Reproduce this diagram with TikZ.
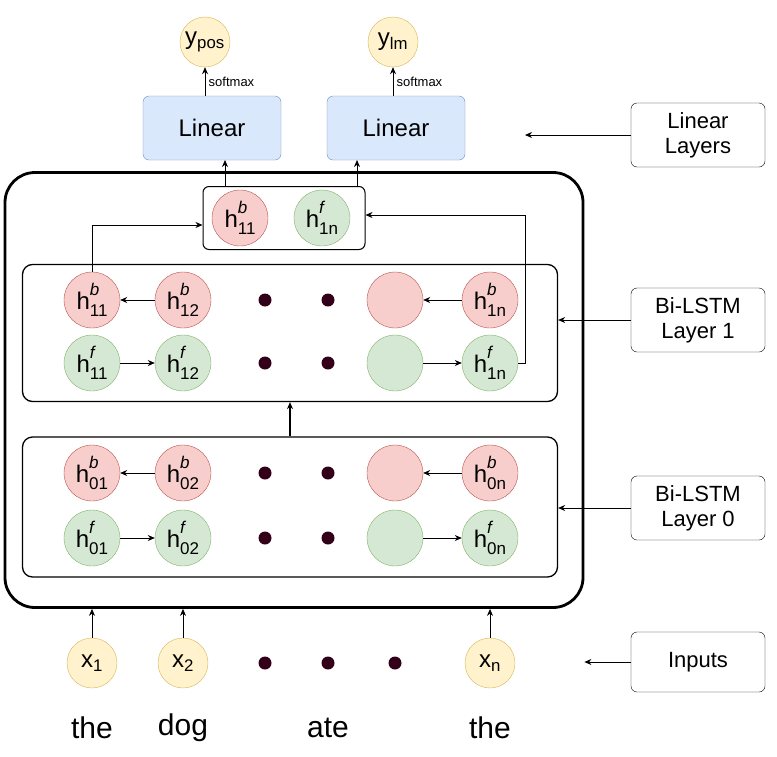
\documentclass[tikz,border=0pt]{standalone}
\usepackage{fontspec}
\setmainfont{Liberation Sans}
\usetikzlibrary{arrows.meta}
\definecolor{rf}{HTML}{F8CECC}\definecolor{rs}{HTML}{B85450}
\definecolor{gf}{HTML}{D5E8D4}\definecolor{gs}{HTML}{82B366}
\definecolor{yf}{HTML}{FFF2CC}\definecolor{ys}{HTML}{D6B656}
\definecolor{bf}{HTML}{DAE8FC}\definecolor{bs}{HTML}{6C8EBF}
\definecolor{dotc}{HTML}{33001A}
\newcommand{\hlab}[2]{h\rlap{\raisebox{0.55em}{\fontsize{17}{18}\selectfont\itshape #1}}{\raisebox{-0.3em}{\fontsize{17}{18}\selectfont #2}}}
\begin{document}
\begin{tikzpicture}[x=1pt,y=-1pt,
 every node/.style={font=\fontsize{24}{27}\selectfont},
 circ/.style={circle,draw,minimum size=56pt,inner sep=0pt},
 red/.style={circ,fill=rf,draw=rs},
 grn/.style={circ,fill=gf,draw=gs},
 yel/.style={circle,draw=ys,fill=yf,minimum size=50pt,inner sep=0pt},
 lin/.style={draw=bs,fill=bf,rounded corners=6pt,minimum width=138pt,minimum height=64pt},
 side/.style={draw,rounded corners=6pt,minimum width=134pt,minimum height=64pt,align=center,font=\fontsize{22}{25}\selectfont},
 dot/.style={circle,fill=dotc,minimum size=13pt,inner sep=0pt},
 arr/.style={-{Stealth[length=7pt,width=6pt]},line width=0.8pt},
 box/.style={draw,line width=1.3pt,rounded corners=10pt},
 word/.style={font=\fontsize{30}{34}\selectfont}]
\useasboundingbox (0,0) rectangle (777,756);
% outputs
\node[yel] (ypos) at (205,42) {y\textsubscript{pos}};
\node[yel] (ylm) at (393,42) {y\textsubscript{lm}};
\node[lin] (lin1) at (212,128) {Linear};
\node[lin] (lin2) at (396,128) {Linear};
\draw[arr] (lin1.north -| ypos) -- (ypos.south) node[midway,right,font=\fontsize{13}{14}\selectfont]{softmax};
\draw[arr] (lin2.north -| ylm) -- (ylm.south) node[midway,right,font=\fontsize{13}{14}\selectfont]{softmax};
% outer
\node[draw,line width=2.8pt,rounded corners=30pt,minimum width=578pt,minimum height=435pt] (outer) at (294,390) {};
% top box
\node[box,line width=1pt,rounded corners=6pt,minimum width=162pt,minimum height=63pt] (top) at (284,218) {};
\node[red] (tb) at (240,218) {\hlab{b}{11}};
\node[grn] (tf) at (322,218) {\hlab{f}{1n}};
\draw[arr] (225,187) -- (225,160);
\draw[arr] (357,187) -- (357,160);
% layer boxes
\node[box,minimum width=535pt,minimum height=137pt] (L1) at (290,333) {};
\node[box,minimum width=535pt,minimum height=140pt] (L0) at (290,507) {};
\draw[arr,line width=1.3pt] (L0.north) -- (L1.south);
% layer 1
\node[red] (a1) at (92,300) {\hlab{b}{11}};
\node[red] (a2) at (183,300) {\hlab{b}{12}};
\node[red] (a3) at (395,300) {};
\node[red] (a4) at (490,300) {\hlab{b}{1n}};
\node[grn] (b1) at (92,363) {\hlab{f}{11}};
\node[grn] (b2) at (183,363) {\hlab{f}{12}};
\node[grn] (b3) at (395,363) {};
\node[grn] (b4) at (490,363) {\hlab{f}{1n}};
\draw[arr] (a2) -- (a1); \draw[arr] (a4) -- (a3);
\draw[arr] (b1) -- (b2); \draw[arr] (b3) -- (b4);
\foreach \x/\n in {265/p,328/q}{\node[dot] (d1\n) at (\x,300){};\node[dot] (e1\n) at (\x,363){};}
% layer 0
\node[red] (c1) at (92,473) {\hlab{b}{01}};
\node[red] (c2) at (183,473) {\hlab{b}{02}};
\node[red] (c3) at (395,473) {};
\node[red] (c4) at (490,473) {\hlab{b}{0n}};
\node[grn] (f1) at (92,538) {\hlab{f}{01}};
\node[grn] (f2) at (183,538) {\hlab{f}{02}};
\node[grn] (f3) at (395,538) {};
\node[grn] (f4) at (490,538) {\hlab{f}{0n}};
\draw[arr] (c2) -- (c1); \draw[arr] (c4) -- (c3);
\draw[arr] (f1) -- (f2); \draw[arr] (f3) -- (f4);
\foreach \x/\n in {265/p,328/q}{\node[dot] (d0\n) at (\x,473){};\node[dot] (e0\n) at (\x,538){};}
% skip connections
\draw[arr] (a1.north) |- (top.west |- 0,225);
\draw[arr] (b4.east) -- (525,363) |- (top.east |- 0,215);
% inputs
\node[yel] (x1) at (92,663) {x\textsubscript{1}};
\node[yel] (x2) at (183,663) {x\textsubscript{2}};
\node[yel] (xn) at (490,663) {x\textsubscript{n}};
\foreach \x/\n in {265/a,328/b,395/c}{\node[dot] (xd\n) at (\x,663){};}
\foreach \n in {x1,x2,xn}{\draw[arr] (\n.north) -- (\n.north |- outer.south);}
\node[word] (w1) at (92,728) {the};
\node[word] (w2) at (183,728) {dog};
\node[word] (w3) at (328,728) {ate};
\node[word] (w4) at (490,728) {the};
% side labels
\node[side] (s1) at (698,135) {Linear\\Layers};
\node[side] (s2) at (698,320) {Bi-LSTM\\Layer 1};
\node[side] (s3) at (698,508) {Bi-LSTM\\Layer 0};
\node[side,minimum height=60pt] (s4) at (698,662) {Inputs};
\coordinate (t1) at (525,135);
\draw[arr] (s1.west) -- (t1);
\draw[arr] (s2.west) -- (L1.east |- s2.west);
\draw[arr] (s3.west) -- (L0.east |- s3.west);
\draw[arr] (s4.west) -- (outer.east |- s4.west);
\end{tikzpicture}
\end{document}
